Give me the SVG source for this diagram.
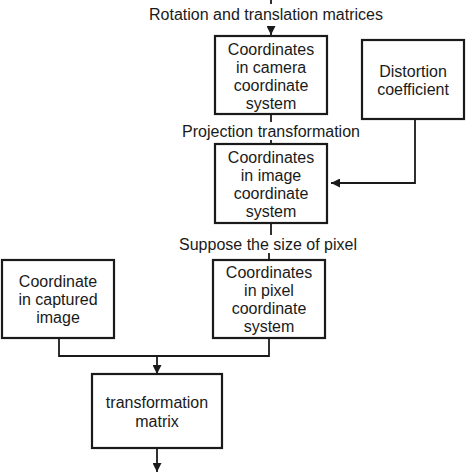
<svg xmlns="http://www.w3.org/2000/svg" width="474" height="474" viewBox="0 0 474 474">
<style>
text{font-family:"Liberation Sans",Arial,sans-serif;font-size:16px;fill:#1a1a1a;text-anchor:middle}
.box{fill:#fff;stroke:#1a1a1a;stroke-width:2.2}
.ln{fill:none;stroke:#1a1a1a;stroke-width:1.8}
</style>
<defs>
<marker id="ab" viewBox="0 0 10 10" refX="10" refY="5" markerWidth="10" markerHeight="9" orient="auto" markerUnits="userSpaceOnUse">
<path d="M0,0 L10,5 L0,10 z" fill="#1a1a1a"/>
</marker>
</defs>
<rect width="474" height="474" fill="#fff"/>
<g id="connectors">
<line class="ln" x1="271" y1="0" x2="271" y2="4"/>
<line class="ln" x1="271" y1="26" x2="271" y2="35" marker-end="url(#ab)"/>
<line class="ln" x1="271" y1="114" x2="271" y2="122"/>
<line class="ln" x1="271" y1="140" x2="271" y2="144"/>
<polyline class="ln" points="415,119 415,183 331,183" marker-end="url(#ab)"/>
<line class="ln" x1="271" y1="223" x2="271" y2="235"/>
<line class="ln" x1="269" y1="253" x2="269" y2="260"/>
<polyline class="ln" points="59,338 59,356 269,356 269,338"/>
<line class="ln" x1="157" y1="356" x2="157" y2="374" marker-end="url(#ab)"/>
<line class="ln" x1="157" y1="448" x2="157" y2="472" marker-end="url(#ab)"/>
<text x="266" y="20">Rotation and translation matrices</text>
<text x="271" y="137">Projection transformation</text>
<text x="268" y="250">Suppose the size of pixel</text>
</g>
<g id="camera">
<rect class="box" x="215" y="36" width="112" height="78"/>
<text x="271" y="55">Coordinates</text>
<text x="271" y="73">in camera</text>
<text x="271" y="91">coordinate</text>
<text x="271" y="109">system</text>
</g>
<g id="distortion">
<rect class="box" x="362" y="40" width="102" height="79"/>
<text x="413" y="77">Distortion</text>
<text x="413" y="95">coefficient</text>
</g>
<g id="image">
<rect class="box" x="215" y="144" width="112" height="79"/>
<text x="271" y="163">Coordinates</text>
<text x="271" y="181">in image</text>
<text x="271" y="199">coordinate</text>
<text x="271" y="217">system</text>
</g>
<g id="pixel">
<rect class="box" x="213" y="260" width="112" height="78"/>
<text x="269" y="278">Coordinates</text>
<text x="269" y="296">in pixel</text>
<text x="269" y="314">coordinate</text>
<text x="269" y="332">system</text>
</g>
<g id="captured">
<rect class="box" x="2" y="260" width="112" height="78"/>
<text x="58" y="287">Coordinate</text>
<text x="58" y="305">in captured</text>
<text x="58" y="323">image</text>
</g>
<g id="matrix">
<rect class="box" x="92" y="374" width="130" height="74"/>
<text x="157" y="408">transformation</text>
<text x="157" y="427">matrix</text>
</g>
</svg>
